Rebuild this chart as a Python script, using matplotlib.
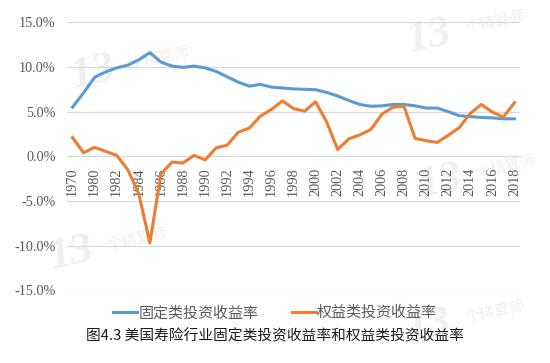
import matplotlib
matplotlib.use('Agg')
import matplotlib.pyplot as plt

plt.rcParams['font.family'] = ['Liberation Serif', 'DejaVu Serif']

# 年份（1970 与 1975 之后为逐年数据）
years = ['1970', '1975'] + [str(y) for y in range(1980, 2019)]

# 固定类投资收益率 (%)
fixed_rate = [5.5, 7.1, 8.85, 9.45, 9.9, 10.2, 10.8, 11.6, 10.55, 10.1,
              9.95, 10.1, 9.9, 9.5, 8.9, 8.3, 7.85, 8.05, 7.75, 7.65,
              7.55, 7.5, 7.45, 7.15, 6.75, 6.25, 5.8, 5.6, 5.65, 5.8,
              5.8, 5.65, 5.4, 5.4, 5.0, 4.55, 4.45, 4.35, 4.3, 4.2, 4.2]

# 权益类投资收益率 (%)
equity_rate = [2.1, 0.4, 1.0, 0.55, 0.1, -1.5, -4.2, -9.7, -2.0, -0.65,
               -0.75, 0.1, -0.4, 0.95, 1.25, 2.7, 3.15, 4.5, 5.25, 6.2,
               5.35, 5.05, 6.1, 3.85, 0.75, 1.95, 2.4, 3.0, 4.7, 5.5,
               5.6, 2.0, 1.75, 1.55, 2.35, 3.2, 4.8, 5.8, 4.95, 4.4, 6.0]

y_ticks = [-15, -10, -5, 0, 5, 10, 15]

grey = '#595959'
cjk = ['Noto Sans CJK SC', 'DejaVu Sans']

fig = plt.figure(figsize=(5.5, 3.63), dpi=100)
ax = fig.add_axes([67 / 550, 1 - 290.3 / 363, 453 / 550, 268 / 363])
ax.set_zorder(2)

# 水印（淡灰色，放在最底层）
for (wx, wy) in [(0.17, 0.80), (0.78, 0.90), (0.13, 0.30), (0.80, 0.50), (0.78, 0.10)]:
    fig.text(wx, wy, '13', fontsize=32, fontweight='bold', style='italic',
             color='#f0f0f0', rotation=12, ha='center', va='center', zorder=0)
    fig.text(wx + 0.12, wy + 0.04, '个精算师', fontsize=11, color='#f0f0f0',
             rotation=12, ha='center', va='center', zorder=0, family=cjk)

x = list(range(len(years)))
ax.plot(x, fixed_rate, color='#5b9bd5', lw=2.2, label='固定类投资收益率', zorder=3)
ax.plot(x, equity_rate, color='#ed7d31', lw=2.2, label='权益类投资收益率', zorder=3)

# 横轴放在 0 处（要先设置，否则会重置刻度样式）
for s in ['top', 'right', 'left']:
    ax.spines[s].set_visible(False)
ax.spines['bottom'].set_position(('data', 0))
ax.spines['bottom'].set_color('#d9d9d9')

ax.set_xlim(-0.5, len(years) - 0.5)
ax.set_ylim(-15, 15)
ax.set_yticks(y_ticks)
ax.set_yticklabels(['%.1f%%' % v for v in y_ticks], fontsize=10.3, color=grey)
ax.set_xticks(x[::2])
ax.set_xticklabels(years[::2], rotation=90, fontsize=10.3, color=grey)
ax.tick_params(axis='both', length=0)
ax.tick_params(axis='x', pad=8)
ax.tick_params(axis='y', pad=8)

ax.grid(axis='y', color='#d9d9d9', lw=0.9)
ax.set_axisbelow(True)
ax.patch.set_alpha(0)

leg = fig.legend(loc='center', bbox_to_anchor=(0.5, 1 - 313 / 363), ncol=2,
                 frameon=False, handlelength=1.6, columnspacing=2.2,
                 handletextpad=0.1, prop={'family': cjk, 'size': 10.8})
for t in leg.get_texts():
    t.set_color(grey)

fig.text(0.5, 1 - 336 / 363, '图4.3 美国寿险行业固定类投资收益率和权益类投资收益率',
         ha='center', va='center', fontsize=10.6, family=cjk, color='#1a1a1a')

fig.savefig('out.png', dpi=100)
